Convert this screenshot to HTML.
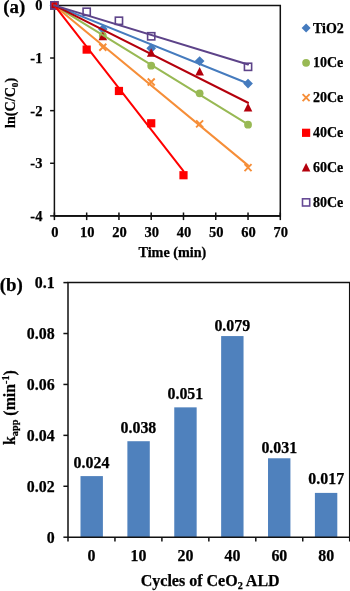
<!DOCTYPE html>
<html><head><meta charset="utf-8"><title>chart</title>
<style>
html,body{margin:0;padding:0;background:#fff;}
svg{display:block;}
text{font-family:"Liberation Serif",serif;font-weight:bold;fill:#000;stroke:#000;stroke-width:0.25px;}
</style></head><body>
<svg width="350" height="591" viewBox="0 0 350 591">
<rect x="0" y="0" width="350" height="591" fill="#fff"/>
<text x="3.3" y="13" font-size="18.9">(a)</text>
<g stroke="#111" stroke-width="1.5" fill="none">
<path d="M54.4,5.4H280.3V215.9H54.4Z"/>
<path d="M53.70,215.9H281.00" stroke-width="1.8"/>
<path d="M50.1,5.40H54.4"/>
<path d="M50.1,58.02H54.4"/>
<path d="M50.1,110.65H54.4"/>
<path d="M50.1,163.28H54.4"/>
<path d="M50.1,215.90H54.4"/>
<path d="M54.40,212.5V220.1"/>
<path d="M86.67,212.5V220.1"/>
<path d="M118.94,212.5V220.1"/>
<path d="M151.21,212.5V220.1"/>
<path d="M183.49,212.5V220.1"/>
<path d="M215.76,212.5V220.1"/>
<path d="M248.03,212.5V220.1"/>
<path d="M280.30,212.5V220.1"/>
</g>
<text x="42.4" y="10.40" font-size="14.5" text-anchor="end">0</text>
<text x="42.4" y="63.02" font-size="14.5" text-anchor="end">-1</text>
<text x="42.4" y="115.65" font-size="14.5" text-anchor="end">-2</text>
<text x="42.4" y="168.28" font-size="14.5" text-anchor="end">-3</text>
<text x="42.4" y="220.90" font-size="14.5" text-anchor="end">-4</text>
<text x="54.90" y="237.3" font-size="14.5" text-anchor="middle">0</text>
<text x="87.17" y="237.3" font-size="14.5" text-anchor="middle">10</text>
<text x="119.44" y="237.3" font-size="14.5" text-anchor="middle">20</text>
<text x="151.71" y="237.3" font-size="14.5" text-anchor="middle">30</text>
<text x="183.99" y="237.3" font-size="14.5" text-anchor="middle">40</text>
<text x="216.26" y="237.3" font-size="14.5" text-anchor="middle">50</text>
<text x="248.53" y="237.3" font-size="14.5" text-anchor="middle">60</text>
<text x="280.80" y="237.3" font-size="14.5" text-anchor="middle">70</text>
<text x="172.4" y="257.3" font-size="14.2" text-anchor="middle">Time (min)</text>
<text transform="translate(15.1,102.9) rotate(-90)" font-size="14.1" text-anchor="middle">ln(C/C<tspan font-size="9.2" dy="2.6">0</tspan><tspan dy="-2.6">)</tspan></text>
<g>
<path d="M49.55,5.40L54.40,0.55L59.25,5.40L54.40,10.25Z" fill="#457BBE"/>
<path d="M97.96,29.03L102.81,24.18L107.66,29.03L102.81,33.88Z" fill="#457BBE"/>
<path d="M146.36,48.29L151.21,43.44L156.06,48.29L151.21,53.14Z" fill="#457BBE"/>
<path d="M194.77,61.08L199.62,56.23L204.47,61.08L199.62,65.93Z" fill="#457BBE"/>
<path d="M243.18,83.55L248.03,78.70L252.88,83.55L248.03,88.40Z" fill="#457BBE"/>
<circle cx="54.40" cy="5.40" r="3.9" fill="#98B954"/>
<circle cx="102.81" cy="35.66" r="3.9" fill="#98B954"/>
<circle cx="151.21" cy="65.66" r="3.9" fill="#98B954"/>
<circle cx="199.62" cy="93.28" r="3.9" fill="#98B954"/>
<circle cx="248.03" cy="124.65" r="3.9" fill="#98B954"/>
<path d="M50.90,1.90L57.90,8.90M50.90,8.90L57.90,1.90" stroke="#F68E38" stroke-width="1.9" fill="none"/>
<path d="M99.31,43.79L106.31,50.79M99.31,50.79L106.31,43.79" stroke="#F68E38" stroke-width="1.9" fill="none"/>
<path d="M147.71,78.47L154.71,85.47M147.71,85.47L154.71,78.47" stroke="#F68E38" stroke-width="1.9" fill="none"/>
<path d="M196.12,120.31L203.12,127.31M196.12,127.31L203.12,120.31" stroke="#F68E38" stroke-width="1.9" fill="none"/>
<path d="M244.53,164.14L251.53,171.14M244.53,171.14L251.53,164.14" stroke="#F68E38" stroke-width="1.9" fill="none"/>
<rect x="50.30" y="1.30" width="8.2" height="8.2" fill="#FF0000"/>
<rect x="82.57" y="45.50" width="8.2" height="8.2" fill="#FF0000"/>
<rect x="114.84" y="86.87" width="8.2" height="8.2" fill="#FF0000"/>
<rect x="147.11" y="119.18" width="8.2" height="8.2" fill="#FF0000"/>
<rect x="179.39" y="171.12" width="8.2" height="8.2" fill="#FF0000"/>
<path d="M50.10,9.40L54.40,0.90L58.70,9.40Z" fill="#B4000C"/>
<path d="M98.51,40.24L102.81,31.74L107.11,40.24Z" fill="#B4000C"/>
<path d="M146.91,56.76L151.21,48.26L155.51,56.76Z" fill="#B4000C"/>
<path d="M195.32,75.44L199.62,66.94L203.92,75.44Z" fill="#B4000C"/>
<path d="M243.73,111.49L248.03,102.99L252.33,111.49Z" fill="#B4000C"/>
<rect x="50.80" y="1.80" width="7.2" height="7.2" fill="none" stroke="#5D4389" stroke-width="1.6"/>
<rect x="83.07" y="8.17" width="7.2" height="7.2" fill="none" stroke="#5D4389" stroke-width="1.6"/>
<rect x="115.34" y="17.17" width="7.2" height="7.2" fill="none" stroke="#5D4389" stroke-width="1.6"/>
<rect x="147.61" y="32.69" width="7.2" height="7.2" fill="none" stroke="#5D4389" stroke-width="1.6"/>
<rect x="244.43" y="63.21" width="7.2" height="7.2" fill="none" stroke="#5D4389" stroke-width="1.6"/>
<path d="M54.40,5.40L248.03,83.55" stroke="#457BBE" stroke-width="2" fill="none" stroke-linecap="round"/>
<path d="M54.40,5.40L248.03,124.33" stroke="#98B954" stroke-width="2" fill="none" stroke-linecap="round"/>
<path d="M54.40,5.40L248.03,165.38" stroke="#F68E38" stroke-width="2" fill="none" stroke-linecap="round"/>
<path d="M54.40,5.40L183.49,171.17" stroke="#FF0000" stroke-width="2" fill="none" stroke-linecap="round"/>
<path d="M54.40,5.40L248.03,102.76" stroke="#B4000C" stroke-width="2" fill="none" stroke-linecap="round"/>
<path d="M54.40,5.40L248.03,64.45" stroke="#5D4389" stroke-width="2" fill="none" stroke-linecap="round"/>
</g>
<path d="M301.60,28.10L306.10,23.60L310.60,28.10L306.10,32.60Z" fill="#457BBE"/>
<text x="313" y="32.60" font-size="14">TiO2</text>
<circle cx="306.10" cy="62.80" r="3.9" fill="#98B954"/>
<text x="313" y="67.10" font-size="14">10Ce</text>
<path d="M302.60,94.10L309.60,101.10M302.60,101.10L309.60,94.10" stroke="#F68E38" stroke-width="1.9" fill="none"/>
<text x="313" y="102.40" font-size="14">20Ce</text>
<rect x="302.00" y="128.70" width="8.2" height="8.2" fill="#FF0000"/>
<text x="313" y="137.10" font-size="14">40Ce</text>
<path d="M301.80,171.60L306.10,163.10L310.40,171.60Z" fill="#B4000C"/>
<text x="313" y="172.40" font-size="14">60Ce</text>
<rect x="302.50" y="198.80" width="7.2" height="7.2" fill="none" stroke="#664A95" stroke-width="1.6"/>
<text x="313" y="207.20" font-size="14">80Ce</text>
<text x="-0.3" y="290.7" font-size="18.9">(b)</text>
<rect x="80.50" y="476.10" width="22.4" height="61.10" fill="#4F81BD"/>
<text x="91.47" y="467.60" font-size="15.9" text-anchor="middle">0.024</text>
<text x="91.57" y="561.1" font-size="15.9" text-anchor="middle">0</text>
<rect x="127.38" y="441.22" width="22.4" height="95.98" fill="#4F81BD"/>
<text x="138.43" y="432.72" font-size="15.9" text-anchor="middle">0.038</text>
<text x="138.53" y="561.1" font-size="15.9" text-anchor="middle">10</text>
<rect x="174.26" y="407.35" width="22.4" height="129.85" fill="#4F81BD"/>
<text x="185.38" y="398.85" font-size="15.9" text-anchor="middle">0.051</text>
<text x="185.47" y="561.1" font-size="15.9" text-anchor="middle">20</text>
<rect x="221.14" y="336.07" width="22.4" height="201.13" fill="#4F81BD"/>
<text x="232.32" y="331.17" font-size="15.9" text-anchor="middle">0.079</text>
<text x="232.42" y="561.1" font-size="15.9" text-anchor="middle">40</text>
<rect x="268.02" y="458.27" width="22.4" height="78.93" fill="#4F81BD"/>
<text x="279.27" y="452.97" font-size="15.9" text-anchor="middle">0.031</text>
<text x="279.38" y="561.1" font-size="15.9" text-anchor="middle">60</text>
<rect x="314.90" y="492.90" width="22.4" height="44.30" fill="#4F81BD"/>
<text x="326.22" y="484.40" font-size="15.9" text-anchor="middle">0.017</text>
<text x="326.32" y="561.1" font-size="15.9" text-anchor="middle">80</text>
<g stroke="#111" stroke-width="1.5" fill="none">
<path d="M68.0,282.6H349.7V537.2H68.0Z"/>
<path d="M63.4,282.60H68.0"/>
<path d="M63.4,333.52H68.0"/>
<path d="M63.4,384.44H68.0"/>
<path d="M63.4,435.36H68.0"/>
<path d="M63.4,486.28H68.0"/>
<path d="M63.4,537.20H68.0"/>
<path d="M68.00,537.2V541.6"/>
<path d="M114.95,537.2V541.6"/>
<path d="M161.90,537.2V541.6"/>
<path d="M208.85,537.2V541.6"/>
<path d="M255.80,537.2V541.6"/>
<path d="M302.75,537.2V541.6"/>
<path d="M349.70,537.2V541.6"/>
</g>
<text x="54.6" y="288.00" font-size="15.9" text-anchor="end">0.1</text>
<text x="54.6" y="338.92" font-size="15.9" text-anchor="end">0.08</text>
<text x="54.6" y="389.84" font-size="15.9" text-anchor="end">0.06</text>
<text x="54.6" y="440.76" font-size="15.9" text-anchor="end">0.04</text>
<text x="54.6" y="491.68" font-size="15.9" text-anchor="end">0.02</text>
<text x="54.6" y="542.60" font-size="15.9" text-anchor="end">0</text>
<text x="210.2" y="586.3" font-size="16" text-anchor="middle">Cycles of CeO<tspan font-size="10.2" dy="3">2</tspan><tspan dy="-3"> ALD</tspan></text>
<text transform="translate(14.6,407.6) rotate(-90)" font-size="15.8" text-anchor="middle">k<tspan font-size="10.3" dy="3">app</tspan><tspan dy="-3"> (min</tspan><tspan font-size="10.3" dy="-5.6">-1</tspan><tspan dy="5.6">)</tspan></text>
</svg>
</body></html>
